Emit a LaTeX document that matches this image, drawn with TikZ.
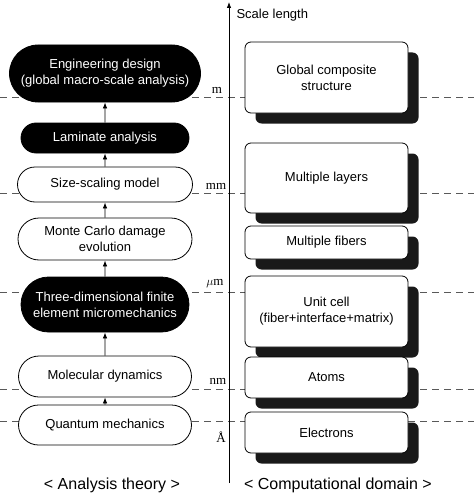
\documentclass[tikz,border=0pt]{standalone}
\usepackage{fontspec}
\setmainfont{Liberation Sans}
\newfontfamily\unitfont{Liberation Serif}
\usetikzlibrary{arrows.meta,shapes.misc,shadows}

\tikzset{
  theory/.style={rounded rectangle, draw, line width=0.8pt, fill=white, align=center, inner sep=0pt},
  theorydark/.style={theory, fill=black, text=white},
  domainbox/.style={rectangle, rounded corners=6pt, draw, line width=0.8pt, fill=white, align=center,
    inner sep=0pt, minimum width=163pt,
    drop shadow={shadow xshift=10.5pt, shadow yshift=-10.5pt, fill=black!90, opacity=1}},
  scaleline/.style={draw=black!65, line width=0.7pt, dash pattern=on 7pt off 5pt},
  unitlabel/.style={font=\unitfont\fontsize{13}{16}\selectfont}
}

\begin{document}
\begin{tikzpicture}[x=1pt, y=-1pt, >={Latex[length=6pt,width=4.5pt]},
    font=\fontsize{13}{16}\selectfont]
    \useasboundingbox (0,0) rectangle (474,495);

    % Dashed scale levels (behind everything)
    \foreach \y in {97,193,292,389,421}
        \draw[scaleline] (0,\y) -- (474,\y);

    % Scale axis
    \coordinate (axisbot) at (229,483);
    \coordinate (axistop) at (229,2);
    \draw[->, line width=0.8pt] (axisbot) -- (axistop);
    \node[anchor=west] (scalelabel) at (233,15) {Scale length};

    % Units along the axis
    \node[unitlabel] (m) at (217,90) {m};
    \node[unitlabel] (mm) at (216,186) {mm};
    \node[unitlabel] (um) at (215,284) {$\mu$m};
    \node[unitlabel] (nm) at (218,381) {nm};
    \node[unitlabel] (ang) at (221,437) {\AA};

    % Analysis theory
    \node[theorydark, minimum width=191pt, minimum height=57pt] (eng) at (105,73.5)
        {Engineering design\\(global macro-scale analysis)};
    \node[theorydark, minimum width=168pt, minimum height=30pt] (lam) at (105,138) {Laminate analysis};
    \node[theory, minimum width=175pt, minimum height=35pt] (size) at (105,184.5) {Size-scaling model};
    \node[theory, minimum width=174pt, minimum height=42pt] (mc) at (105,239)
        {Monte Carlo damage\\evolution};
    \node[theorydark, minimum width=168pt, minimum height=55pt] (fem) at (105,304.5)
        {Three-dimensional finite\\element micromechanics};
    \node[theory, minimum width=173pt, minimum height=41pt] (md) at (105,376.5) {Molecular dynamics};
    \node[theory, minimum width=173pt, minimum height=40pt] (qm) at (105,425) {Quantum mechanics};

    % Arrows up the hierarchy
    \draw[->, line width=0.8pt] (qm) -- (md);
    \draw[->, line width=0.8pt] (md) -- (fem);
    \draw[->, line width=0.8pt] (fem) -- (mc);
    \draw[->, line width=0.8pt] (mc) -- (size);
    \draw[->, line width=0.8pt] (size) -- (lam);
    \draw[->, line width=0.8pt] (lam) -- (eng);

    % Computational domain
    \node[domainbox, minimum height=71pt] (glob) at (326.5,77.5) {Global composite\\structure};
    \node[domainbox, minimum height=70pt] (layers) at (326.5,178) {Multiple layers};
    \node[domainbox, minimum height=33pt] (fibers) at (326.5,242.5) {Multiple fibers};
    \node[domainbox, minimum height=71pt] (cell) at (326.5,311.5) {Unit cell\\(fiber+interface+matrix)};
    \node[domainbox, minimum height=41pt] (atoms) at (326.5,377.5) {Atoms};
    \node[domainbox, minimum height=41pt] (elec) at (326.5,432.5) {Electrons};

    % Column titles
    \node[font=\fontsize{16}{19}\selectfont] (theorytitle) at (112,485) {< Analysis theory >};
    \node[font=\fontsize{16}{19}\selectfont] (domaintitle) at (338,485) {< Computational domain >};
\end{tikzpicture}
\end{document}
